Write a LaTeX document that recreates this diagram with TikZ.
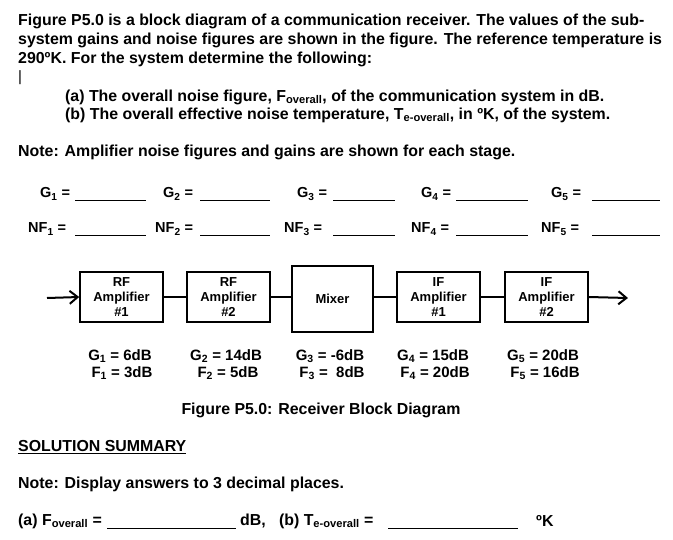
\documentclass[tikz,border=0pt]{standalone}
\usepackage{fontspec}
\setmainfont{Liberation Sans}
\usetikzlibrary{arrows.meta}
\begin{document}
\begin{tikzpicture}[x=1pt,y=-1pt,font=\bfseries\fontsize{15.9}{18}\selectfont,
 blk/.style={draw,line width=1.6pt,align=center,inner sep=0pt,minimum width=83pt,minimum height=50pt,font=\bfseries\fontsize{13}{15}\selectfont},
 txt/.style={anchor=west,inner sep=0pt},
 lbl/.style={anchor=west,inner sep=0pt,font=\bfseries\fontsize{14.5}{16}\selectfont},
 wire/.style={line width=1.6pt},
 arr/.style={line width=2pt,-{Straight Barb[length=8pt,width=13pt,line width=2pt]}},
 blank/.style={line width=0.6pt}]
\useasboundingbox (0,0) rectangle (673,539);
\node[txt] (t1) at (18,21) {Figure P5.0 is a block diagram of a communication receiver. The values of the sub-};
\node[txt] (t2) at (18,40) {system gains and noise figures are shown in the figure. The reference temperature is};
\node[txt] (t3) at (18,59) {290ºK. For the system determine the following:};
\node[txt,font=\fontsize{15}{16}\selectfont] (cur) at (18,78) {|};
\node[txt] (ta) at (65,97) {(a) The overall noise figure, F\textsubscript{overall}, of the communication system in dB.};
\node[txt] (tb) at (65,115) {(b) The overall effective noise temperature, T\textsubscript{e-overall}, in ºK, of the system.};
\node[txt] (tn) at (18,152) {Note: Amplifier noise figures and gains are shown for each stage.};
\foreach \lab/\x/\xs/\xe/\nm in {G\textsubscript{1}/40/75/146/g1,G\textsubscript{2}/163/200/270/g2,G\textsubscript{3}/297/333/395/g3,G\textsubscript{4}/421/456/528/g4,G\textsubscript{5}/551/592/660/g5}{
 \node[lbl] (\nm) at (\x,194) {\lab\ =};
 \draw[blank] (\xs,200) -- (\xe,200);}
\foreach \lab/\x/\xs/\xe/\nm in {NF\textsubscript{1}/28/75/146/n1,NF\textsubscript{2}/155/200/270/n2,NF\textsubscript{3}/284/333/395/n3,NF\textsubscript{4}/411/456/528/n4,NF\textsubscript{5}/541/592/660/n5}{
 \node[lbl] (\nm) at (\x,229) {\lab\ =};
 \draw[blank] (\xs,235) -- (\xe,235);}
\coordinate (in) at (47,298);
\coordinate (out) at (628,298);
\node[blk] (b1) at (121.5,297) {RF\\Amplifier\\\#1};
\node[blk] (b2) at (228.5,297) {RF\\Amplifier\\\#2};
\node[blk,minimum height=66pt,minimum width=81pt] (b3) at (332.5,299) {Mixer};
\node[blk] (b4) at (438.5,297) {IF\\Amplifier\\\#1};
\node[blk] (b5) at (546.5,297) {IF\\Amplifier\\\#2};
\draw[arr] (in) -- (b1.west);
\draw[wire] (b1) -- (b2);
\draw[wire] (b2.east) -- (b3.west|-b2.east);
\draw[wire] (b3.east|-b4.west) -- (b4.west);
\draw[wire] (b4) -- (b5);
\draw[arr] (b5.east) -- (out);
\foreach \g/\f/\x/\nm in {G\textsubscript{1} = 6dB/F\textsubscript{1} = 3dB/120/v1,G\textsubscript{2} = 14dB/F\textsubscript{2} = 5dB/226/v2,G\textsubscript{3} = -6dB/F\textsubscript{3} =\ \ 8dB/330/v3,G\textsubscript{4} = 15dB/F\textsubscript{4} = 20dB/433/v4,G\textsubscript{5} = 20dB/F\textsubscript{5} = 16dB/543/v5}{
 \node[inner sep=0pt,font=\bfseries\fontsize{15}{16}\selectfont] (\nm g) at (\x,356) {\g};
 \node[inner sep=0pt,font=\bfseries\fontsize{15}{16}\selectfont] (\nm f) at (\x+2,373) {\f};}
\node[inner sep=0pt] (cap) at (321,410) {Figure P5.0: Receiver Block Diagram};
\node[txt] (ss) at (18,447) {\underline{SOLUTION SUMMARY}};
\node[txt] (nd) at (18,484) {Note: Display answers to 3 decimal places.};
\node[txt] (fa) at (18,521) {(a) F\textsubscript{overall} =};
\draw[blank] (107,528) -- (236,528);
\node[txt] (db) at (240,521) {dB,\ \ \ (b) T\textsubscript{e-overall} =};
\draw[blank] (388,528) -- (518,528);
\node[txt] (k) at (536,521) {ºK};
\end{tikzpicture}
\end{document}
